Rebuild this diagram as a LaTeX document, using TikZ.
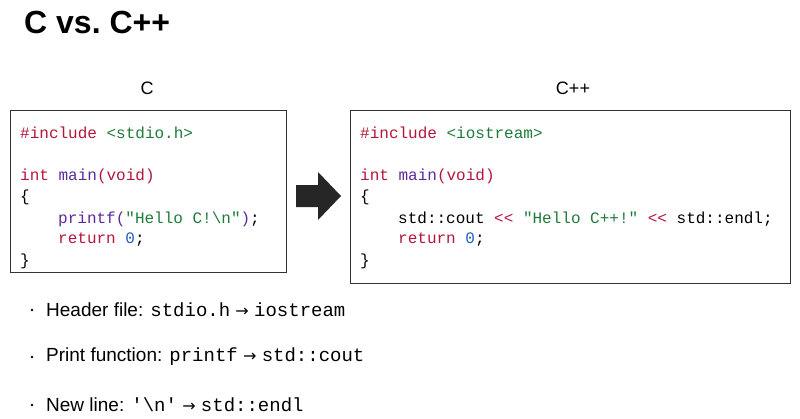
\documentclass[tikz,border=0pt]{standalone}
\usepackage{fontspec}
\setmainfont{Liberation Sans}
\setmonofont{Liberation Mono}
\newfontfamily\arrfont{DejaVu Sans}
\definecolor{kred}{HTML}{B5163C}
\definecolor{kgreen}{HTML}{1E7B3A}
\definecolor{kpurple}{HTML}{5B2A9E}
\definecolor{kblue}{HTML}{1F5FC0}
\newcommand{\arr}{{\arrfont\fontsize{16}{20}\selectfont →}}
\begin{document}
\begin{tikzpicture}[x=1pt,y=-1pt,
  code/.style={anchor=west,inner sep=0pt,font=\fontsize{16}{18}\ttfamily},
  box/.style={draw=black!80,line width=1pt},
  bul/.style={anchor=west,inner sep=0pt,font=\fontsize{19}{22}\selectfont}]
\useasboundingbox (0,0) rectangle (800,418);
\node[anchor=west,inner sep=0pt,font=\fontsize{32}{36}\bfseries] (title) at (24,22) {C vs.\ C++};
\node[font=\fontsize{18}{20}\selectfont] (lc) at (147,88) {C};
\node[font=\fontsize{18}{20}\selectfont] (lcpp) at (573,88) {C++};
\draw[box] (10,110) rectangle (286,272);
\draw[box] (350,110) rectangle (790,283);
% left code
\node[code] (a1) at (20,133) {\textcolor{kred}{\#include} \textcolor{kgreen}{<stdio.h>}};
\node[code] (a2) at (20,176) {\textcolor{kred}{int} \textcolor{kpurple}{main}\textcolor{kred}{(void)}};
\node[code] (a3) at (20,197) {\{};
\node[code] (a4) at (58,219) {\textcolor{kpurple}{printf(}\textcolor{kgreen}{"Hello C!\textbackslash n"}\textcolor{kpurple}{)};};
\node[code] (a5) at (58,240) {\textcolor{kred}{return} \textcolor{kblue}{0};};
\node[code] (a6) at (20,261) {\}};
% right code
\node[code] (b1) at (360,133) {\textcolor{kred}{\#include} \textcolor{kgreen}{<iostream>}};
\node[code] (b2) at (360,176) {\textcolor{kred}{int} \textcolor{kpurple}{main}\textcolor{kred}{(void)}};
\node[code] (b3) at (360,197) {\{};
\node[code] (b4) at (398,219) {std::cout \textcolor{kred}{<<} \textcolor{kgreen}{"Hello C++!"} \textcolor{kred}{<<} std::endl;};
\node[code] (b5) at (398,240) {\textcolor{kred}{return} \textcolor{kblue}{0};};
\node[code] (b6) at (360,261) {\}};
% arrow
\fill[black!85] (296,185) -- (318,185) -- (318,172) -- (341,196) -- (318,220) -- (318,207) -- (296,207) -- cycle;
% bullets
\foreach \yy in {310,357,405}{\fill (32,\yy) circle (1.4);}
\node[bul] (c1) at (46,310) {Header file: \texttt{stdio.h} \arr{} \texttt{iostream}};
\node[bul] (c2) at (46,357) {Print function: \texttt{printf} \arr{} \texttt{std::cout}};
\node[bul] (c3) at (46,405) {New line: \texttt{'\textbackslash n'} \arr{} \texttt{std::endl}};
\end{tikzpicture}
\end{document}
